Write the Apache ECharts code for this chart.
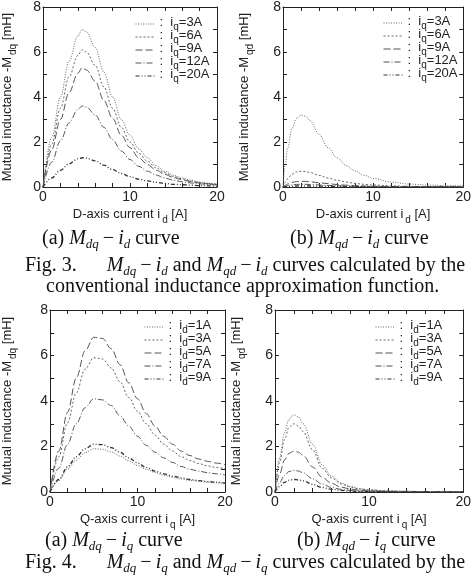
<!DOCTYPE html>
<html>
<head>
<meta charset="utf-8">
<script src="https://cdn.jsdelivr.net/npm/echarts@6/dist/echarts.min.js"></script>
<style>
  html, body { margin: 0; padding: 0; background: #fff; }
  #chart { width: 474px; height: 577px; }
</style>
</head>
<body>
<div id="chart"></div>
<script>
// Fig. 3 (a): Mdq vs id
const xsA = [0, 1, 2, 3, 4, 4.5, 5, 6, 7, 8, 9, 10, 11, 12, 13, 14, 15, 16, 17, 18, 19, 20];
const aIq3 = [0, 2.2, 4.0, 5.6, 6.7, 7.0, 6.9, 6.2, 5.1, 4.0, 3.0, 2.3, 1.7, 1.3, 0.95, 0.7, 0.52, 0.4, 0.3, 0.22, 0.17, 0.13];
const aIq6 = [0, 1.9, 3.5, 4.9, 5.85, 6.1, 6.0, 5.4, 4.45, 3.5, 2.65, 2.0, 1.5, 1.15, 0.85, 0.63, 0.47, 0.36, 0.27, 0.2, 0.15, 0.12];
const aIq9 = [0, 1.65, 3.0, 4.2, 5.05, 5.3, 5.2, 4.7, 3.85, 3.05, 2.3, 1.75, 1.3, 1.0, 0.75, 0.56, 0.42, 0.32, 0.24, 0.18, 0.14, 0.11];
const aIq12 = [0, 1.1, 2.05, 2.85, 3.45, 3.6, 3.55, 3.2, 2.65, 2.1, 1.6, 1.22, 0.92, 0.7, 0.53, 0.4, 0.3, 0.23, 0.18, 0.14, 0.11, 0.09];
const aIq20 = [0, 0.4, 0.74, 1.03, 1.25, 1.3, 1.28, 1.16, 0.97, 0.77, 0.6, 0.46, 0.35, 0.27, 0.21, 0.16, 0.12, 0.1, 0.08, 0.06, 0.05, 0.04];

// Fig. 3 (b): Mqd vs id
const xsB = [0, 0.25, 0.5, 1, 1.5, 2, 2.5, 3, 4, 5, 6, 7, 8, 9, 10, 12, 14, 16, 18, 20];
const bIq3 = [0, 1.0, 1.7, 2.6, 3.05, 3.2, 3.15, 2.95, 2.35, 1.75, 1.3, 0.95, 0.72, 0.52, 0.38, 0.22, 0.13, 0.09, 0.06, 0.05];
const bIq6 = [0, 0.2, 0.36, 0.57, 0.67, 0.7, 0.69, 0.64, 0.52, 0.4, 0.3, 0.22, 0.16, 0.12, 0.09, 0.05, 0.03, 0.02, 0.02, 0.01];
const bIq9 = [0, 0.07, 0.13, 0.2, 0.24, 0.25, 0.25, 0.23, 0.19, 0.15, 0.11, 0.08, 0.06, 0.045, 0.035, 0.02, 0.015, 0.01, 0.01, 0.01];
const bIq12 = [0, 0.035, 0.06, 0.095, 0.115, 0.12, 0.12, 0.11, 0.09, 0.07, 0.055, 0.04, 0.03, 0.025, 0.02, 0.01, 0.01, 0.005, 0.005, 0.005];
const bIq20 = [0, 0.01, 0.02, 0.035, 0.045, 0.05, 0.05, 0.045, 0.04, 0.03, 0.025, 0.02, 0.015, 0.01, 0.01, 0.005, 0.005, 0, 0, 0];

// Fig. 4 (a): Mdq vs iq
const xsC = [0, 1, 2, 3, 4, 5, 6, 7, 8, 9, 10, 11, 12, 13, 14, 15, 16, 17, 18, 19, 20];
const cId1 = [0, 0.5, 1.0, 1.4, 1.72, 1.9, 1.88, 1.76, 1.58, 1.37, 1.17, 1.0, 0.86, 0.74, 0.65, 0.57, 0.51, 0.47, 0.43, 0.4, 0.37];
const cId3 = [0, 1.55, 3.05, 4.35, 5.4, 5.9, 5.85, 5.45, 4.85, 4.15, 3.55, 3.0, 2.5, 2.1, 1.8, 1.55, 1.38, 1.25, 1.15, 1.08, 1.02];
const cId5 = [0, 1.8, 3.5, 5.0, 6.2, 6.8, 6.75, 6.3, 5.6, 4.8, 4.1, 3.45, 2.9, 2.45, 2.1, 1.8, 1.6, 1.45, 1.35, 1.27, 1.2];
const cId7 = [0, 1.05, 2.1, 3.0, 3.7, 4.1, 4.05, 3.8, 3.35, 2.9, 2.45, 2.05, 1.75, 1.5, 1.3, 1.12, 1.0, 0.92, 0.85, 0.8, 0.75];
const cId9 = [0, 0.55, 1.1, 1.55, 1.9, 2.1, 2.08, 1.95, 1.75, 1.5, 1.28, 1.08, 0.92, 0.8, 0.7, 0.62, 0.55, 0.5, 0.46, 0.43, 0.4];

// Fig. 4 (b): Mqd vs iq
const xsD = [0, 0.5, 1, 1.5, 2, 2.5, 3, 4, 5, 6, 7, 8, 9, 10, 12, 14, 16, 18, 20];
const dId1 = [0, 1.5, 2.6, 3.2, 3.4, 3.3, 3.0, 2.1, 1.2, 0.7, 0.4, 0.24, 0.15, 0.1, 0.05, 0.03, 0.02, 0.01, 0.01];
const dId3 = [0, 1.3, 2.3, 2.85, 3.0, 2.9, 2.65, 1.85, 1.05, 0.62, 0.36, 0.22, 0.13, 0.09, 0.04, 0.03, 0.02, 0.01, 0.01];
const dId5 = [0, 0.8, 1.4, 1.7, 1.8, 1.75, 1.6, 1.1, 0.65, 0.38, 0.22, 0.13, 0.08, 0.05, 0.03, 0.02, 0.01, 0.01, 0.01];
const dId7 = [0, 0.42, 0.73, 0.9, 0.95, 0.92, 0.84, 0.58, 0.35, 0.2, 0.12, 0.07, 0.04, 0.03, 0.02, 0.01, 0.01, 0, 0];
const dId9 = [0, 0.24, 0.42, 0.52, 0.55, 0.53, 0.49, 0.34, 0.2, 0.12, 0.07, 0.04, 0.025, 0.015, 0.01, 0.005, 0, 0, 0];

const xTicks = [0, 10, 20];
const yTicks = [0, 2, 4, 6, 8];

const ink = '#222';
const sans = 'Liberation Sans';
const serif = 'Liberation Serif';

// dash patterns in legend order (MATLAB-ish line styles)
const dashes = [[1, 1.5], [2, 2], [7, 3], [6, 2, 1, 2], [4, 2, 1, 2, 1, 2]];
const widths = [1, 1, 1, 1, 1.3];
const colors = ['#666', '#666', '#555', '#555', '#333'];

const grids = [
  { left: 35, top: 6, width: 182, height: 181 },
  { left: 283, top: 6, width: 183, height: 181 },
  { left: 44, top: 310, width: 181, height: 182 },
  { left: 275, top: 310, width: 191, height: 182 }
];

const nameRich = {
  n: { fontFamily: sans, fontSize: 13, color: ink, lineHeight: 17, verticalAlign: 'top' },
  s: { fontFamily: sans, fontSize: 10, color: ink, verticalAlign: 'bottom', padding: [0, 0, 0, 2] }
};

const xNames = [
  '{n|D-axis current i}{s|d}{n| [A]}',
  '{n|D-axis current i}{s|d}{n| [A]}',
  '{n|Q-axis current i}{s|q}{n| [A]}',
  '{n|Q-axis current i}{s|q}{n| [A]}'
];
const yNames = [
  '{n|Mutual inductance -M}{s|dq}{n| [mH]}',
  '{n|Mutual inductance -M}{s|qd}{n| [mH]}',
  '{n|Mutual inductance -M}{s|dq}{n| [mH]}',
  '{n|Mutual inductance -M}{s|qd}{n| [mH]}'
];
const yNameGaps = [25, 28, 32, 28];

const tickLine = { color: ink, width: 1 };

function baseAxis(gi) {
  return {
    type: 'value',
    gridIndex: gi,
    axisLine: { show: true, onZero: false, lineStyle: tickLine },
    axisTick: { show: true, inside: true, length: 4, lineStyle: tickLine },
    minorTick: { show: true, length: 4, lineStyle: tickLine },
    splitLine: { show: false },
    minorSplitLine: { show: false }
  };
}

const xAxes = [];
const yAxes = [];
grids.forEach((g, gi) => {
  xAxes.push(Object.assign(baseAxis(gi), {
    position: 'bottom', min: xTicks[0], max: xTicks[xTicks.length - 1], interval: xTicks[1] - xTicks[0],
    minorTick: { show: true, splitNumber: 5, length: 4, lineStyle: tickLine },
    axisLabel: { fontFamily: sans, fontSize: 14, color: ink, margin: 3 },
    name: xNames[gi], nameLocation: 'middle', nameGap: 21,
    nameTextStyle: { rich: nameRich }
  }));
  yAxes.push(Object.assign(baseAxis(gi), {
    position: 'left', min: yTicks[0], max: yTicks[yTicks.length - 1], interval: yTicks[1] - yTicks[0],
    minorTick: { show: true, splitNumber: 2, length: 4, lineStyle: tickLine },
    axisLabel: { fontFamily: sans, fontSize: 14, color: ink, margin: 2 },
    name: yNames[gi], nameLocation: 'middle', nameGap: yNameGaps[gi], nameRotate: 90,
    nameTextStyle: { rich: nameRich }
  }));
});
// mirrored frame with inward ticks on top and right
grids.forEach((g, gi) => {
  xAxes.push(Object.assign(baseAxis(gi), {
    position: 'top', min: 0, max: 20, interval: 10,
    minorTick: { show: true, splitNumber: 5, length: 4, lineStyle: tickLine },
    axisLabel: { show: false }
  }));
  yAxes.push(Object.assign(baseAxis(gi), {
    position: 'right', min: 0, max: 8, interval: 2,
    minorTick: { show: true, splitNumber: 2, length: 4, lineStyle: tickLine },
    axisLabel: { show: false }
  }));
});

const panels = [
  { xs: xsA, sub: 'q', labels: ['3A', '6A', '9A', '12A', '20A'], ys: [aIq3, aIq6, aIq9, aIq12, aIq20], legend: { left: 135, top: 16 } },
  { xs: xsB, sub: 'q', labels: ['3A', '6A', '9A', '12A', '20A'], ys: [bIq3, bIq6, bIq9, bIq12, bIq20], legend: { left: 383, top: 15 } },
  { xs: xsC, sub: 'd', labels: ['1A', '3A', '5A', '7A', '9A'], ys: [cId1, cId3, cId5, cId7, cId9], legend: { left: 144, top: 319 } },
  { xs: xsD, sub: 'd', labels: ['1A', '3A', '5A', '7A', '9A'], ys: [dId1, dId3, dId5, dId7, dId9], legend: { left: 375, top: 319 } }
];

const series = [];
const legends = [];
panels.forEach((p, gi) => {
  const names = [];
  p.labels.forEach((lab, k) => {
    const name = p.sub + '|' + lab + '|' + gi;
    names.push(name);
    series.push({
      name: name,
      type: 'line',
      xAxisIndex: gi,
      yAxisIndex: gi,
      symbol: 'none',
      smooth: 0.35,
      smoothMonotone: 'x',
      lineStyle: { color: colors[k], width: widths[k], type: dashes[k] },
      itemStyle: { color: colors[k], opacity: 0 },
      data: p.xs.map((x, i) => [x, p.ys[k][i]])
    });
  });
  legends.push({
    orient: 'vertical',
    left: p.legend.left,
    top: p.legend.top,
    padding: 0,
    itemGap: -3,
    itemWidth: 19,
    itemHeight: 10,
    selectedMode: false,
    itemStyle: { opacity: 0 },
    lineStyle: { width: 1 },
    data: names,
    formatter: function (name) {
      const parts = name.split('|');
      return '{n|:  i}{s|' + parts[0] + '}{n|=' + parts[1] + '}';
    },
    textStyle: {
      color: ink,
      fontFamily: sans,
      fontSize: 13,
      rich: {
        n: { fontFamily: sans, fontSize: 13, color: ink, lineHeight: 16, verticalAlign: 'top' },
        s: { fontFamily: sans, fontSize: 10, color: ink, verticalAlign: 'bottom' }
      }
    }
  });
});

const capRich = {
  n: { fontFamily: serif, fontSize: 20, fill: '#111', lineHeight: 22, verticalAlign: 'top' },
  i: { fontFamily: serif, fontSize: 20, fontStyle: 'italic', fill: '#111', lineHeight: 22, verticalAlign: 'top' },
  si: { fontFamily: serif, fontSize: 13, fontStyle: 'italic', fill: '#111', verticalAlign: 'bottom' }
};

function caption(text, left, top) {
  return { type: 'text', left: left, top: top, silent: true, style: { text: text, rich: capRich, fill: '#111', font: '20px ' + serif } };
}

const dash = '\u2009\u2212\u2009';
const captions = [
  caption('{n|(a) }{i|M}{si|dq}{n|' + dash + '}{i|i}{si|d}{n| curve}', 42, 229),
  caption('{n|(b) }{i|M}{si|qd}{n|' + dash + '}{i|i}{si|d}{n| curve}', 290, 229),
  caption('{n|Fig. 3.      }{i|M}{si|dq}{n|' + dash + '}{i|i}{si|d}{n| and }{i|M}{si|qd}{n|' + dash + '}{i|i}{si|d}{n| curves calculated by the}', 25, 256),
  caption('{n|conventional inductance approximation function.}', 46, 277),
  caption('{n|(a) }{i|M}{si|dq}{n|' + dash + '}{i|i}{si|q}{n| curve}', 45, 531),
  caption('{n|(b) }{i|M}{si|qd}{n|' + dash + '}{i|i}{si|q}{n| curve}', 297, 531),
  caption('{n|Fig. 4.      }{i|M}{si|dq}{n|' + dash + '}{i|i}{si|q}{n| and }{i|M}{si|qd}{n|' + dash + '}{i|i}{si|q}{n| curves calculated by the}', 25, 553)
];

const chart = echarts.init(document.getElementById('chart'), null, { renderer: 'canvas' });
chart.setOption({
  backgroundColor: '#fff',
  animation: false,
  grid: grids,
  xAxis: xAxes,
  yAxis: yAxes,
  legend: legends,
  series: series,
  graphic: captions
});
</script>
</body>
</html>
